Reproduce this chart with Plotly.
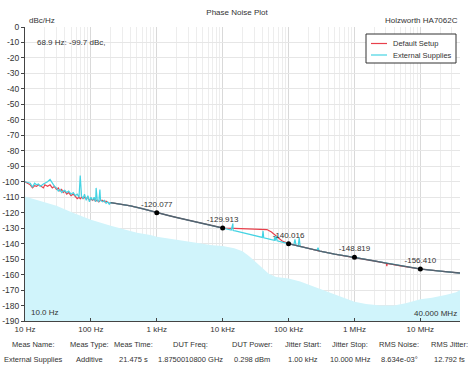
import math
import plotly.graph_objects as go

# ---------------- data ----------------
noise_freq = [10, 11, 12, 13, 14, 15, 16, 17, 18, 19, 20, 22, 24, 26, 28, 30, 32, 34, 36, 38,
              40, 43, 46, 50, 54, 58, 62, 66, 68.9, 72, 76, 80, 85, 90, 95, 100, 106, 112, 118,
              120, 125, 132, 137, 140, 150, 160, 170, 180, 190, 200]
cyan_noise = [-100, -100.5, -101, -103.5, -101, -102, -101.5, -103, -102, -101.5, -101, -100, -98.5,
              -101, -103, -104, -106, -105, -107, -106, -105.5, -107, -106, -108, -107, -109, -108,
              -110, -96, -109, -111, -108, -112, -109, -113, -110, -112, -110, -113, -104, -112,
              -113, -105, -112, -113, -112, -114, -113, -114.5, -114]
red_noise = [-100, -101, -102, -104, -102.5, -103, -102, -102.5, -103, -104, -102, -103, -102,
             -104, -103, -105, -104, -106, -105, -107, -106, -108, -107, -109, -108, -110, -111,
             -110, -111, -110, -111, -110, -111, -110, -112, -111, -112, -111, -113, -112, -112,
             -113, -112.5, -112, -112, -113, -112.5, -113, -114, -113.5]

shared_lo_freq = [200, 300, 400, 600, 800, 1000, 1500, 2000, 3000, 5000, 7000, 10000]
shared_lo_db = [-113.5, -114.6, -115.6, -117.4, -118.9, -120.077, -121.8, -123.1, -124.8,
                -127.1, -128.5, -129.913]

red_mid_freq = [10000, 15000, 20000, 30000, 40000, 47000, 55000, 65000, 80000, 100000]
red_mid_db = [-129.913, -130.1, -130.3, -130.5, -130.6, -130.9, -132.5, -135.3, -138.3, -140.016]

cyan_mid_freq = [10000, 13500, 14300, 14400, 15500, 20000, 30000, 40000, 41000, 42000, 55000,
                 61000, 62000, 63000, 66000, 67000, 80000, 100000]
cyan_mid_db = [-129.913, -131.2, -127.0, -131.5, -131.8, -132.9, -134.7, -136.0, -131.8, -136.2,
               -137.4, -137.8, -135.3, -138.0, -135.0, -138.2, -139.0, -140.016]

shared_hi_freq = [100000, 150000, 200000, 300000, 500000, 1000000, 2000000, 3000000, 5000000,
                  10000000, 20000000, 40000000]
shared_hi_db = [-140.016, -141.9, -143.1, -144.8, -146.8, -148.819, -151.2, -152.6, -154.4,
                -156.410, -157.8, -159.0]

cyan_hi_freq = [120000, 125000, 130000, 140000, 145000, 270000, 280000, 290000]
cyan_hi_db = [-140.9, -137.2, -141.2, -141.6, -136.1, -144.3, -142.6, -144.6]

red_hi_freq = [3050000, 3100000, 3150000]
red_hi_db = [-152.7, -154.6, -152.8]

floor_freq = [10, 20, 30, 50, 100, 200, 500, 800, 1000, 2000, 4000, 7000, 10000, 15000, 20000,
              25000, 32000, 40000, 50000, 65000, 100000, 150000, 250000, 400000, 700000, 1000000,
              1500000, 2500000, 4000000, 6000000, 10000000, 15000000, 25000000, 35000000, 40000000]
floor_db = [-109.5, -113, -115.5, -119.5, -124.5, -128.5, -133, -134.5, -135.5, -137.5, -139.5,
            -141, -141.5, -143, -145, -148, -152, -156, -159.5, -161.5, -162.5, -164.5, -168,
            -171.5, -175, -177.5, -179, -180, -180, -178.5, -176, -175, -173, -171.5, -170]

spot_freq = [1000, 10000, 100000, 1000000, 10000000]
spot_db = [-120.077, -129.913, -140.016, -148.819, -156.410]

x_tick_vals = [10, 100, 1000, 10000, 100000, 1000000, 10000000]
x_tick_text = ["10 Hz", "100 Hz", "1 kHz", "10 kHz", "100 kHz", "1 MHz", "10 MHz"]
y_tick_vals = list(range(-190, 1, 10))

series_names = ["Default Setup", "External Supplies"]
series_colors = ["#e8404c", "#45d3e3"]

table_heads = ["Meas Name:", "Meas Type:", "Meas Time:", "DUT Freq:", "DUT Power:",
               "Jitter Start:", "Jitter Stop:", "RMS Noise:", "RMS Jitter:"]
table_vals = ["External Supplies", "Additive", "21.475 s", "1.8750010800 GHz", "0.298 dBm",
              "1.00 kHz", "10.000 MHz", "8.634e-03°", "12.792 fs"]
table_cols = [33, 89, 133, 190, 252, 303, 350, 399, 449]

X_MIN, X_MAX = 10, 40000000
Y_MIN, Y_MAX = -190, 0


def merge(*pairs):
    d = {}
    for fs, vs in pairs:
        for f, v in zip(fs, vs):
            d[f] = v
    ks = sorted(d)
    return ks, [d[k] for k in ks]


red_x, red_y = merge((noise_freq, red_noise), (shared_lo_freq, shared_lo_db),
                     (red_mid_freq, red_mid_db), (shared_hi_freq, shared_hi_db),
                     (red_hi_freq, red_hi_db))
cyan_x, cyan_y = merge((noise_freq, cyan_noise), (shared_lo_freq, shared_lo_db),
                       (cyan_mid_freq, cyan_mid_db), (shared_hi_freq, shared_hi_db),
                       (cyan_hi_freq, cyan_hi_db))
dark_x = shared_lo_freq + [None] + shared_hi_freq
dark_y = shared_lo_db + [None] + shared_hi_db

FONT = "Liberation Sans, Arial, sans-serif"
TXT = "#333333"
FS = 8

fig = go.Figure()
fig.add_trace(go.Scatter(x=[X_MIN, X_MAX], y=[Y_MIN, Y_MIN], mode="lines",
                         line=dict(width=0), showlegend=False, hoverinfo="skip"))
fig.add_trace(go.Scatter(x=floor_freq, y=floor_db, mode="lines", fill="tonexty",
                         fillcolor="#d0f4fb", line=dict(width=0, color="#d0f4fb"),
                         showlegend=False))
fig.add_trace(go.Scatter(x=red_x, y=red_y, mode="lines", name=series_names[0],
                         showlegend=False, line=dict(color=series_colors[0], width=1.2)))
fig.add_trace(go.Scatter(x=cyan_x, y=cyan_y, mode="lines", name=series_names[1],
                         showlegend=False, line=dict(color=series_colors[1], width=1.2)))
fig.add_trace(go.Scatter(x=dark_x, y=dark_y, mode="lines", showlegend=False,
                         connectgaps=False, line=dict(color="#56626e", width=1.4)))
fig.add_trace(go.Scatter(x=spot_freq, y=spot_db, mode="markers+text", showlegend=False,
                         marker=dict(color="black", size=5),
                         text=["%.3f" % v for v in spot_db], textposition="top center",
                         textfont=dict(family=FONT, size=FS, color=TXT)))

minor_vals = [m * 10 ** e for e in range(1, 8) for m in range(2, 10) if m * 10 ** e <= X_MAX]

fig.update_layout(
    width=474, height=366,
    margin=dict(l=25, r=14, t=27, b=45),
    paper_bgcolor="white", plot_bgcolor="white",
    font=dict(family=FONT, size=FS, color=TXT),
    showlegend=False,
    title=dict(text="Phase Noise Plot", x=0.5, xanchor="center", y=0.967, yanchor="middle",
               font=dict(family=FONT, size=FS, color=TXT)),
    xaxis=dict(type="log", range=[math.log10(X_MIN), math.log10(X_MAX)], automargin=False,
               tickmode="array", tickvals=x_tick_vals, ticktext=x_tick_text,
               showline=True, linecolor="#444444", linewidth=1, ticks="inside", ticklen=3,
               tickcolor="#444444", gridcolor="#d9d9d9", zeroline=False,
               tickfont=dict(family=FONT, size=FS, color=TXT),
               minor=dict(tickmode="array", tickvals=minor_vals, showgrid=True,
                          gridcolor="#ededed", ticks="")),
    yaxis=dict(range=[Y_MIN, Y_MAX], tickmode="array", tickvals=y_tick_vals, automargin=False,
               ticktext=[str(v) for v in y_tick_vals], showline=True, linecolor="#444444",
               linewidth=1, ticks="outside", ticklen=3, tickcolor="#444444",
               gridcolor="#e6e6e6", zeroline=False,
               tickfont=dict(family=FONT, size=8.5, color=TXT)),
)

PW, PH, L, T = 435.0, 294.0, 25.0, 27.0


def px(x):
    return (x - L) / PW


def py(y):
    return (T + PH - y) / PH


# legend box (drawn in paper space)
fig.add_shape(type="rect", xref="paper", yref="paper", x0=px(366), x1=px(456),
              y0=py(63), y1=py(34), fillcolor="white", line=dict(color="#333333", width=1),
              layer="above")
for i, (nm, col) in enumerate(zip(series_names, series_colors)):
    yy = 43.5 + i * 11.5
    fig.add_shape(type="line", xref="paper", yref="paper", x0=px(371), x1=px(387),
                  y0=py(yy), y1=py(yy), line=dict(color=col, width=1.2), layer="above")
    fig.add_annotation(text=nm, x=px(391), y=py(yy), xref="paper", yref="paper",
                       xanchor="left", yanchor="middle", showarrow=False,
                       font=dict(family=FONT, size=7.5, color=TXT))

ann = [
    ("dBc/Hz", px(27), py(21), "left"),
    ("Holzworth HA7062C", px(460), py(21), "right"),
    ("68.9 Hz: -99.7 dBc,", px(35), py(43), "left"),
    ("10.0 Hz", px(29), py(312), "left"),
    ("40.000 MHz", px(459), py(313), "right"),
]
for t, x, y, a in ann:
    fig.add_annotation(text=t, x=x, y=y, xref="paper", yref="paper", xanchor=a,
                       yanchor="middle", showarrow=False,
                       font=dict(family=FONT, size=FS, color=TXT))
for h, v, c in zip(table_heads, table_vals, table_cols):
    fig.add_annotation(text=h, x=px(c), y=py(344), xref="paper", yref="paper",
                       xanchor="center", yanchor="middle", showarrow=False,
                       font=dict(family=FONT, size=7.5, color=TXT))
    fig.add_annotation(text=v, x=px(c), y=py(359), xref="paper", yref="paper",
                       xanchor="center", yanchor="middle", showarrow=False,
                       font=dict(family=FONT, size=7.5, color=TXT))

fig.write_html("out.html", config={"displayModeBar": False},
               post_script="document.body.style.margin='0px';"
                           "document.body.style.overflow='hidden';")
